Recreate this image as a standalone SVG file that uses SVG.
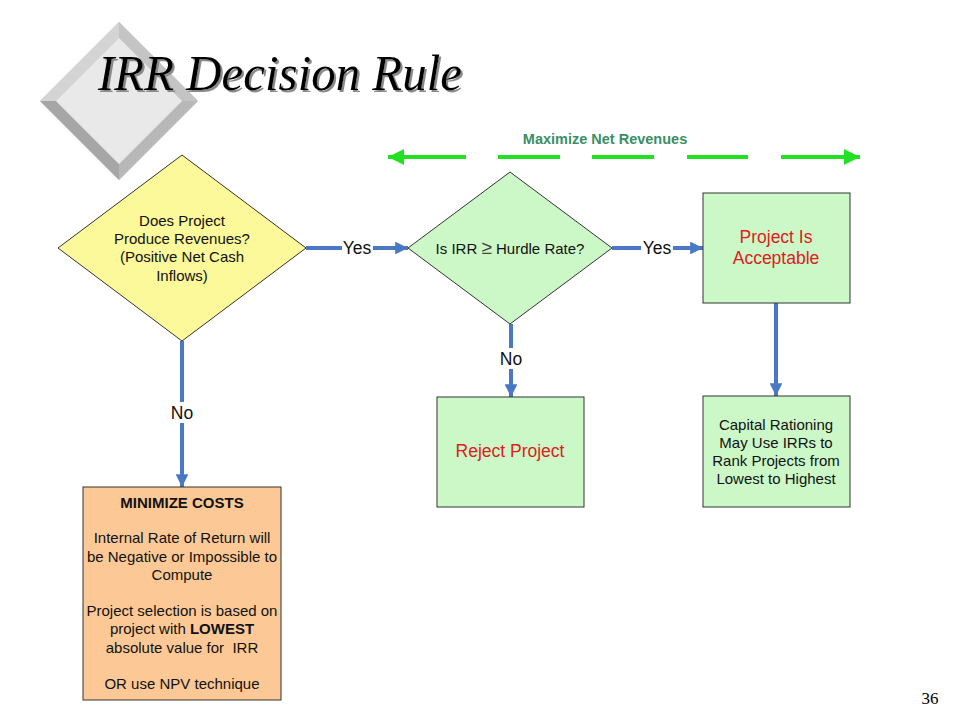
<svg xmlns="http://www.w3.org/2000/svg" width="960" height="720" viewBox="0 0 960 720">
<style>
.t{font-family:"Liberation Sans",Arial,sans-serif;font-size:15px;fill:#111;text-anchor:middle}
.red{font-family:"Liberation Sans",Arial,sans-serif;font-size:17.5px;fill:#dd1c1c;text-anchor:middle}
.lbl{font-family:"Liberation Sans",Arial,sans-serif;font-size:17.5px;fill:#111;text-anchor:middle}
.conn{stroke:#4a78c4;stroke-width:4;fill:none}
.node{stroke:#333;stroke-width:1}
</style>
<defs>
<marker id="ah" viewBox="0 0 10 10" refX="10" refY="5" markerWidth="3.2" markerHeight="3.2" orient="auto" markerUnits="strokeWidth">
<path d="M0,0 L10,5 L0,10 z" fill="#4a78c4"/>
</marker>
<marker id="gh" viewBox="0 0 10 10" refX="10" refY="5" markerWidth="4" markerHeight="4" orient="auto" markerUnits="strokeWidth">
<path d="M0,0 L10,5 L0,10 z" fill="#22e022"/>
</marker>
<filter id="sh" x="-5%" y="-20%" width="115%" height="150%">
<feDropShadow dx="2" dy="2" stdDeviation="0.6" flood-color="#8a8a8a" flood-opacity="1"/>
</filter>
</defs>
<rect width="960" height="720" fill="#fff"/>

<g id="deco">
<polygon points="119,22 198,101 119,180 40,101" fill="#c8c8c8"/>
<polygon points="119,22 40,101 56,101 119,38" fill="#d4d4d4"/>
<polygon points="119,22 198,101 182,101 119,38" fill="#c4c4c4"/>
<polygon points="40,101 119,180 119,164 56,101" fill="#a6a6a6"/>
<polygon points="198,101 119,180 119,164 182,101" fill="#b8b8b8"/>
<polygon points="119,38 182,101 119,164 56,101" fill="#e9e9e9"/>
</g>

<g id="title">
<text x="98" y="90" font-family="'Liberation Serif','Times New Roman',serif" font-style="italic" font-size="50" fill="#000" textLength="364" lengthAdjust="spacingAndGlyphs" filter="url(#sh)">IRR Decision Rule</text>
</g>

<g id="maximize">
<text x="605" y="144" font-family="'Liberation Sans',Arial,sans-serif" font-size="14.5" font-weight="bold" fill="#3a8f63" text-anchor="middle">Maximize Net Revenues</text>
<line x1="466" y1="157" x2="388" y2="157" stroke="#22e022" stroke-width="4" marker-end="url(#gh)"/>
<line x1="498" y1="157" x2="560" y2="157" stroke="#22e022" stroke-width="4"/>
<line x1="592" y1="157" x2="654" y2="157" stroke="#22e022" stroke-width="4"/>
<line x1="687" y1="157" x2="748" y2="157" stroke="#22e022" stroke-width="4"/>
<line x1="781" y1="157" x2="860" y2="157" stroke="#22e022" stroke-width="4" marker-end="url(#gh)"/>
</g>

<g id="connectors">
<line class="conn" x1="306" y1="248" x2="408" y2="248" marker-end="url(#ah)"/>
<line class="conn" x1="612" y1="248" x2="703" y2="248" marker-end="url(#ah)"/>
<line class="conn" x1="776" y1="303" x2="776" y2="396" marker-end="url(#ah)"/>
<line class="conn" x1="511" y1="324" x2="511" y2="397" marker-end="url(#ah)"/>
<line class="conn" x1="182" y1="341" x2="182" y2="487" marker-end="url(#ah)"/>
<rect x="342" y="237" width="31" height="21" fill="#fff"/>
<text class="lbl" x="357" y="254">Yes</text>
<rect x="641" y="237" width="32" height="21" fill="#fff"/>
<text class="lbl" x="657" y="254">Yes</text>
<rect x="498" y="348" width="26" height="21" fill="#fff"/>
<text class="lbl" x="511" y="365">No</text>
<rect x="169" y="402" width="26" height="21" fill="#fff"/>
<text class="lbl" x="182" y="419">No</text>
</g>

<g id="q1">
<polygon class="node" points="182,155 306,248 182,341 58,248" fill="#fbf99a"/>
<text class="t" x="182" y="226">Does Project</text>
<text class="t" x="182" y="244">Produce Revenues?</text>
<text class="t" x="182" y="262">(Positive Net Cash</text>
<text class="t" x="182" y="281">Inflows)</text>
</g>

<g id="q2">
<polygon class="node" points="510,172 612,248 510,324 408,248" fill="#ccf8c8"/>
<text class="t" x="510" y="254" font-size="14.5">Is IRR <tspan font-size="19" fill="#444">≥</tspan> Hurdle Rate?</text>
</g>

<g id="accept">
<rect class="node" x="703" y="193" width="147" height="110" fill="#ccf8c8"/>
<text class="red" x="776" y="243">Project Is</text>
<text class="red" x="776" y="264">Acceptable</text>
</g>

<g id="reject">
<rect class="node" x="437" y="397" width="147" height="110" fill="#ccf8c8"/>
<text class="red" x="510" y="457">Reject Project</text>
</g>

<g id="rationing">
<rect class="node" x="703" y="396" width="147" height="111" fill="#ccf8c8"/>
<text class="t" x="776" y="430">Capital Rationing</text>
<text class="t" x="776" y="448">May Use IRRs to</text>
<text class="t" x="776" y="466">Rank Projects from</text>
<text class="t" x="776" y="484">Lowest to Highest</text>
</g>

<g id="minimize">
<rect class="node" x="83" y="487" width="198" height="213" fill="#fcc996"/>
<text class="t" x="182" y="508" font-weight="bold">MINIMIZE COSTS</text>
<text class="t" x="182" y="543">Internal Rate of Return will</text>
<text class="t" x="182" y="562">be Negative or Impossible to</text>
<text class="t" x="182" y="580">Compute</text>
<text class="t" x="182" y="616">Project selection is based on</text>
<text class="t" x="182" y="634">project with <tspan font-weight="bold">LOWEST</tspan></text>
<text class="t" x="182" y="653" xml:space="preserve">absolute value for  IRR</text>
<text class="t" x="182" y="689">OR use NPV technique</text>
</g>

<text x="930" y="704" font-family="'Liberation Serif','Times New Roman',serif" font-size="17" fill="#000" text-anchor="middle">36</text>
</svg>
